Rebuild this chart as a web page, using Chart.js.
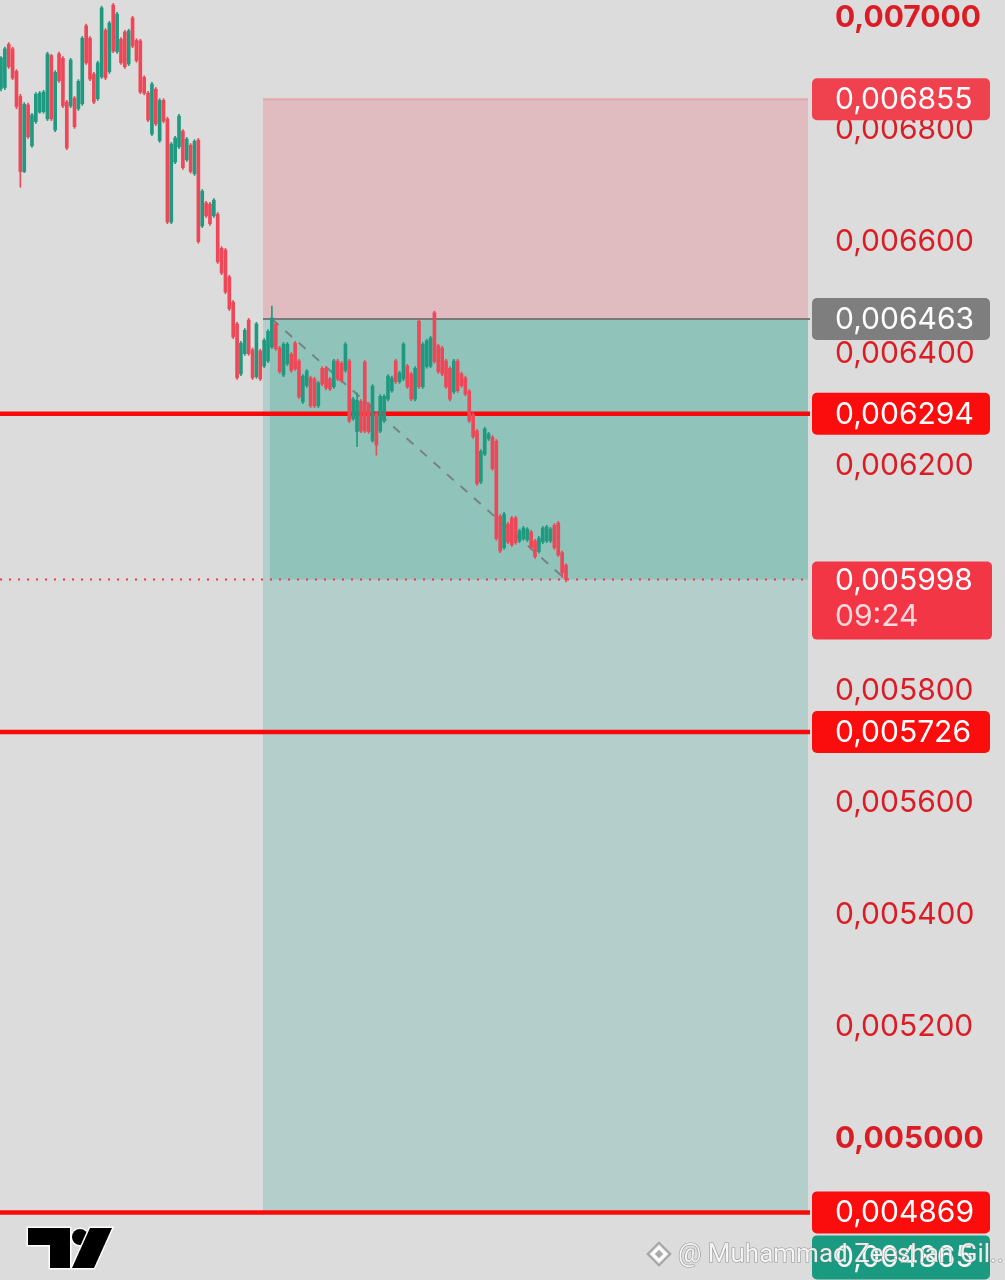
<!DOCTYPE html>
<html>
<head>
<meta charset="utf-8">
<script src="https://cdn.jsdelivr.net/npm/chart.js@4.4.1/dist/chart.umd.min.js"></script>
<style>
  html, body { margin: 0; padding: 0; background: #dcdcdc; }
  #wrap { width: 1005px; height: 1280px; position: relative; }
</style>
</head>
<body>
<div id="wrap"><canvas id="chart"></canvas></div>
<script>
// candles, oldest first
const open = [0.006874,0.006876,0.006953,0.006945,0.006905,0.006860,0.006726,0.006845,0.006772,0.006815,
  0.006832,0.006833,0.006820,0.006933,0.006800,0.006936,0.006928,0.006850,0.006843,0.006857,
  0.006838,0.006847,0.006986,0.006964,0.006900,0.006856,0.006895,0.006978,0.006904,0.007023,
  0.006940,0.006962,0.006975,0.006918,0.007000,0.006960,0.006959,0.006894,0.006866,0.006793,
  0.006873,0.006781,0.006853,0.006820,0.006636,0.006743,0.006770,0.006798,0.006747,0.006773,
  0.006722,0.006782,0.006629,0.006670,0.006668,0.006647,0.006650,0.006589,0.006586,0.006538,
  0.006493,0.006454,0.006365,0.006401,0.006461,0.006408,0.006360,0.006406,0.006379,0.006388,
  0.006413,0.006454,0.006411,0.006363,0.006383,0.006400,0.006420,0.006388,0.006315,0.006344,
  0.006358,0.006356,0.006308,0.006375,0.006375,0.006356,0.006342,0.006388,0.006384,0.006371,
  0.006388,0.006285,0.006262,0.006316,0.006386,0.006311,0.006246,0.006295,0.006263,0.006281,
  0.006320,0.006335,0.006388,0.006351,0.006356,0.006379,0.006365,0.006320,0.006459,0.006342,
  0.006378,0.006379,0.006474,0.006415,0.006411,0.006388,0.006375,0.006333,0.006388,0.006365,
  0.006358,0.006334,0.006293,0.006263,0.006172,0.006222,0.006249,0.006252,0.006245,0.006111,
  0.006055,0.006097,0.006108,0.006108,0.006067,0.006071,0.006069,0.006083,0.006067,0.006048,
  0.006065,0.006067,0.006067,0.006095,0.006099,0.006046,0.006024];
const high = [0.006931,0.006948,0.006956,0.006948,0.006908,0.006864,0.006849,0.006848,0.006830,0.006867,
  0.006869,0.006871,0.006939,0.006935,0.006906,0.006939,0.006931,0.006853,0.006928,0.006860,
  0.006890,0.006967,0.006989,0.006967,0.006903,0.006923,0.007021,0.006981,0.006994,0.007026,
  0.007010,0.006965,0.006978,0.006980,0.007003,0.006963,0.006962,0.006897,0.006869,0.006885,
  0.006876,0.006856,0.006856,0.006823,0.006778,0.006789,0.006828,0.006801,0.006787,0.006776,
  0.006783,0.006785,0.006694,0.006673,0.006671,0.006678,0.006653,0.006592,0.006589,0.006541,
  0.006496,0.006457,0.006423,0.006446,0.006464,0.006411,0.006457,0.006409,0.006428,0.006444,
  0.006486,0.006457,0.006414,0.006421,0.006421,0.006403,0.006423,0.006391,0.006364,0.006373,
  0.006361,0.006359,0.006352,0.006378,0.006378,0.006359,0.006391,0.006391,0.006387,0.006421,
  0.006391,0.006323,0.006331,0.006319,0.006389,0.006314,0.006346,0.006298,0.006328,0.006328,
  0.006364,0.006361,0.006391,0.006370,0.006421,0.006382,0.006368,0.006378,0.006462,0.006421,
  0.006427,0.006432,0.006477,0.006418,0.006414,0.006391,0.006378,0.006391,0.006391,0.006368,
  0.006361,0.006337,0.006296,0.006266,0.006230,0.006270,0.006261,0.006255,0.006248,0.006114,
  0.006118,0.006100,0.006111,0.006111,0.006088,0.006093,0.006091,0.006086,0.006070,0.006075,
  0.006093,0.006095,0.006091,0.006098,0.006102,0.006049,0.006026];
const low = [0.006870,0.006872,0.006910,0.006890,0.006838,0.006698,0.006724,0.006785,0.006769,0.006812,
  0.006830,0.006830,0.006817,0.006817,0.006797,0.006885,0.006840,0.006765,0.006840,0.006803,
  0.006835,0.006844,0.006917,0.006888,0.006847,0.006853,0.006892,0.006890,0.006901,0.006938,
  0.006937,0.006917,0.006910,0.006915,0.006947,0.006921,0.006865,0.006863,0.006815,0.006790,
  0.006808,0.006778,0.006813,0.006633,0.006633,0.006740,0.006767,0.006730,0.006744,0.006723,
  0.006719,0.006598,0.006626,0.006644,0.006630,0.006644,0.006562,0.006542,0.006508,0.006478,
  0.006428,0.006355,0.006362,0.006398,0.006398,0.006355,0.006357,0.006353,0.006376,0.006385,
  0.006410,0.006407,0.006366,0.006360,0.006380,0.006368,0.006371,0.006321,0.006312,0.006341,
  0.006305,0.006305,0.006305,0.006344,0.006337,0.006335,0.006339,0.006353,0.006350,0.006368,
  0.006278,0.006282,0.006235,0.006260,0.006260,0.006259,0.006243,0.006220,0.006260,0.006278,
  0.006317,0.006332,0.006348,0.006348,0.006353,0.006339,0.006317,0.006317,0.006339,0.006339,
  0.006375,0.006376,0.006384,0.006366,0.006362,0.006339,0.006317,0.006330,0.006332,0.006341,
  0.006326,0.006278,0.006250,0.006166,0.006169,0.006219,0.006246,0.006193,0.006068,0.006046,
  0.006052,0.006062,0.006057,0.006061,0.006064,0.006068,0.006066,0.006052,0.006036,0.006045,
  0.006062,0.006064,0.006064,0.006052,0.006039,0.006002,0.005994];
const close = [0.006929,0.006945,0.006913,0.006893,0.006842,0.006726,0.006846,0.006788,0.006827,0.006864,
  0.006866,0.006868,0.006936,0.006820,0.006903,0.006888,0.006843,0.006768,0.006925,0.006806,
  0.006887,0.006964,0.006920,0.006891,0.006850,0.006920,0.007018,0.006893,0.006991,0.006941,
  0.007007,0.006920,0.006913,0.006977,0.006950,0.006924,0.006868,0.006866,0.006818,0.006882,
  0.006811,0.006853,0.006816,0.006636,0.006775,0.006786,0.006825,0.006733,0.006784,0.006726,
  0.006780,0.006601,0.006691,0.006647,0.006633,0.006675,0.006565,0.006545,0.006511,0.006481,
  0.006431,0.006358,0.006420,0.006443,0.006401,0.006358,0.006454,0.006356,0.006425,0.006441,
  0.006465,0.006410,0.006369,0.006418,0.006418,0.006371,0.006374,0.006324,0.006361,0.006370,
  0.006308,0.006308,0.006349,0.006347,0.006340,0.006338,0.006388,0.006356,0.006353,0.006418,
  0.006281,0.006320,0.006318,0.006263,0.006263,0.006262,0.006343,0.006238,0.006325,0.006325,
  0.006361,0.006358,0.006351,0.006367,0.006418,0.006342,0.006320,0.006375,0.006342,0.006418,
  0.006424,0.006429,0.006387,0.006369,0.006365,0.006342,0.006320,0.006388,0.006335,0.006344,
  0.006329,0.006281,0.006253,0.006169,0.006227,0.006267,0.006258,0.006196,0.006071,0.006049,
  0.006115,0.006065,0.006060,0.006064,0.006085,0.006090,0.006088,0.006055,0.006039,0.006072,
  0.006090,0.006092,0.006088,0.006055,0.006042,0.006010,0.005998];

// price axis
const tickValues = [0.0070, 0.0068, 0.0066, 0.0064, 0.0062, 0.0060, 0.0058, 0.0056, 0.0054, 0.0052, 0.0050, 0.0048];
const boldTicks = [0.0070, 0.0050];

// drawings
const levels = [0.006294, 0.005726, 0.004869];
const stopPrice = 0.006855;
const entryPrice = 0.006463;
const targetPrice = 0.004869;
const targetTag = 0.004865;
const lastPrice = 0.005998;
const countdown = '09:24';
const positionStart = 67.7;  // bar where the short position tool begins
const entryBar = 70;
const lastBar = 146;

const xMin = -0.26, xMax = 209.05;
const yMin = 0.0047484, yMax = 0.0070321;

const upColor = '#1f9a80';
const downColor = '#ee4757';
const FONT = 'Inter, "Noto Sans", sans-serif';

const fmt = v => v.toFixed(6).replace('.', ',');
const isBold = v => boldTicks.some(b => Math.abs(b - v) < 1e-9);

const wickData = open.map((o, i) => ({ x: i, y: [low[i], high[i]] }));
const bodyData = open.map((o, i) => ({ x: i, y: [open[i], close[i]] }));
const candleColor = ctx => close[ctx.dataIndex] >= open[ctx.dataIndex] ? upColor : downColor;

function hLine(value, color, width, dash, from) {
  return {
    type: 'line',
    data: [{ x: from, y: value }, { x: xMax, y: value }],
    borderColor: color, borderWidth: width, borderDash: dash,
    pointRadius: 0, order: 3
  };
}

const zonesPlugin = {
  id: 'zones',
  beforeDatasetsDraw(chart) {
    const { ctx, chartArea, scales: { x, y } } = chart;
    const x0 = x.getPixelForValue(positionStart);
    const xf = x.getPixelForValue(entryBar - 0.5);
    const x1 = chartArea.right - 2;
    const yStop = y.getPixelForValue(stopPrice);
    const yEntry = y.getPixelForValue(entryPrice);
    const yTarget = y.getPixelForValue(targetPrice);
    const yLast = y.getPixelForValue(lastPrice);
    ctx.save();
    ctx.fillStyle = '#e0bcc0';
    ctx.fillRect(x0, yStop, x1 - x0, yEntry - yStop);
    ctx.fillStyle = 'rgba(235,150,160,0.7)';
    ctx.fillRect(x0, yStop - 1, x1 - x0, 2);
    ctx.fillStyle = '#b4cfcb';
    ctx.fillRect(x0, yEntry, x1 - x0, yTarget - yEntry);
    ctx.fillStyle = '#90c4bb';
    ctx.fillRect(xf, yEntry, x1 - xf, yLast - yEntry);
    ctx.restore();
  }
};

function tag(ctx, x, y, w, h, color, text) {
  ctx.fillStyle = color;
  ctx.beginPath();
  ctx.roundRect(x, y, w, h, 5);
  ctx.fill();
  ctx.fillStyle = '#ffffff';
  ctx.font = '30px ' + FONT;
  ctx.textBaseline = 'middle';
  ctx.textAlign = 'left';
  ctx.fillText(text, 835, y + h / 2 + 1);
}

const tagsPlugin = {
  id: 'tags',
  afterDraw(chart) {
    const { ctx, scales: { y } } = chart;
    ctx.save();
    const tags = [
      [stopPrice, '#f0414f'],
      [entryPrice, '#7e7e7e'],
      [levels[0], '#fb0d0d'],
      [levels[1], '#fb0d0d'],
      [levels[2], '#fb0d0d']
    ];
    tags.forEach(([v, c]) => {
      const py = y.getPixelForValue(v);
      tag(ctx, 812, py - 21, 178, 42, c, fmt(v));
    });
    // target tag sits under the level tag
    const pyT = y.getPixelForValue(levels[2]);
    tag(ctx, 812, pyT + 23, 178, 44, '#1a9a80', fmt(targetTag));

    // last price with countdown
    const pyL = y.getPixelForValue(lastPrice);
    ctx.fillStyle = '#f23645';
    ctx.beginPath();
    ctx.roundRect(812, pyL - 18, 180, 78, 5);
    ctx.fill();
    ctx.fillStyle = '#ffffff';
    ctx.font = '30px ' + FONT;
    ctx.textBaseline = 'middle';
    ctx.fillText(fmt(lastPrice), 835, pyL + 1);
    ctx.fillStyle = 'rgba(255,235,238,0.9)';
    ctx.fillText(countdown, 835, pyL + 37);

    // TradingView logo
    ctx.fillStyle = '#000';
    ctx.strokeStyle = '#fff';
    ctx.lineWidth = 3;
    ctx.beginPath();
    ctx.moveTo(28, 1228); ctx.lineTo(70, 1228); ctx.lineTo(70, 1268); ctx.lineTo(50, 1268);
    ctx.lineTo(50, 1245); ctx.lineTo(28, 1245); ctx.closePath();
    ctx.stroke(); ctx.fill();
    ctx.beginPath(); ctx.arc(80, 1237, 8, 0, Math.PI * 2); ctx.stroke(); ctx.fill();
    ctx.beginPath();
    ctx.moveTo(90, 1228); ctx.lineTo(112, 1228); ctx.lineTo(94, 1268); ctx.lineTo(72, 1268); ctx.closePath();
    ctx.stroke(); ctx.fill();

    // watermark
    ctx.save();
    ctx.translate(659, 1254);
    ctx.rotate(Math.PI / 4);
    ctx.strokeStyle = 'rgba(150,150,150,0.8)';
    ctx.lineWidth = 2;
    ctx.strokeRect(-8, -8, 16, 16);
    ctx.fillStyle = 'rgba(255,255,255,0.9)';
    ctx.fillRect(-6, -6, 12, 12);
    ctx.fillStyle = 'rgba(150,150,150,0.8)';
    ctx.fillRect(-3, -3, 6, 6);
    ctx.restore();
    ctx.font = '26px Roboto, sans-serif';
    ctx.textBaseline = 'middle';
    ctx.lineWidth = 1.2;
    ctx.strokeStyle = 'rgba(120,120,120,0.7)';
    ctx.strokeText('@ Muhammad Zeeshan Gil...', 678, 1255);
    ctx.fillStyle = 'rgba(255,255,255,0.85)';
    ctx.fillText('@ Muhammad Zeeshan Gil...', 678, 1255);
    ctx.restore();
  }
};

new Chart(document.getElementById('chart'), {
  type: 'bar',
  data: {
    datasets: [
      { data: wickData, backgroundColor: candleColor, barThickness: 1, grouped: false, order: 1 },
      { data: bodyData, backgroundColor: candleColor, barThickness: 3, grouped: false, minBarLength: 1, order: 0 },
      hLine(levels[0], '#f80a0a', 4.5, [], xMin),
      hLine(levels[1], '#f80a0a', 4.5, [], xMin),
      hLine(levels[2], '#f80a0a', 4.5, [], xMin),
      hLine(entryPrice, '#7a7a7a', 2, [], positionStart),
      hLine(lastPrice, '#f23645', 2, [2, 7], xMin),
      {
        type: 'line',
        data: [{ x: entryBar, y: entryPrice }, { x: lastBar, y: lastPrice }],
        borderColor: 'rgba(110,110,110,0.75)', borderWidth: 2, borderDash: [9, 9],
        pointRadius: 0, order: 2
      }
    ]
  },
  options: {
    animation: false,
    responsive: true,
    maintainAspectRatio: false,
    layout: { padding: 0 },
    plugins: { legend: { display: false }, tooltip: { enabled: false } },
    scales: {
      x: { type: 'linear', min: xMin, max: xMax, display: false, offset: false },
      y: {
        position: 'right',
        min: yMin,
        max: yMax,
        grid: { display: false, drawTicks: false },
        border: { display: false },
        afterFit: s => { s.width = 195; s.paddingTop = 0; s.paddingBottom = 0; },
        afterBuildTicks: s => { s.ticks = tickValues.map(v => ({ value: v })); },
        ticks: {
          padding: 25,
          color: '#dc1c24',
          font: c => ({ family: FONT, size: 30, weight: c.tick && isBold(c.tick.value) ? 'bold' : 'normal' }),
          callback: v => fmt(v)
        }
      }
    }
  },
  plugins: [zonesPlugin, tagsPlugin]
});
</script>
</body>
</html>
